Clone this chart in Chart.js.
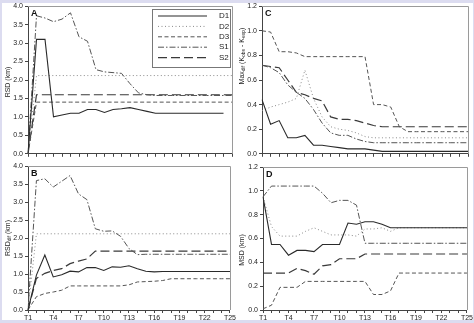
<!DOCTYPE html>
<html>
<head>
<meta charset="utf-8">
<script src="https://cdn.jsdelivr.net/npm/chart.js@4.4.1/dist/chart.umd.min.js"></script>
<style>
  body { margin: 0; background: #dcdcf0; }
  #sheet { position: absolute; left: 2px; top: 3px; width: 471px; height: 317px; background: #fff; }
  .panel { position: absolute; }
</style>
</head>
<body>
<div id="sheet"></div>
<div class="panel" style="left:0;top:0;width:237px;height:160px"><canvas id="chartA"></canvas></div>
<div class="panel" style="left:0;top:160px;width:237px;height:163px"><canvas id="chartB"></canvas></div>
<div class="panel" style="left:234px;top:0;width:240px;height:160px"><canvas id="chartC"></canvas></div>
<div class="panel" style="left:234px;top:160px;width:240px;height:163px"><canvas id="chartD"></canvas></div>
<script>
const timeSteps = ["T1", "T2", "T3", "T4", "T5", "T6", "T7", "T8", "T9", "T10", "T11", "T12", "T13",
  "T14", "T15", "T16", "T17", "T18", "T19", "T20", "T21", "T22", "T23", "T24", "T25"];
const seriesNames = ["D1", "D2", "D3", "S1", "S2"];

// A: RSD (km)
const rsdD1 = [0, 3.1, 3.1, 1.0, 1.05, 1.1, 1.1, 1.2, 1.2, 1.12, 1.2, 1.22, 1.25, 1.2, 1.15, 1.1, 1.1, 1.1, 1.1, 1.1, 1.1, 1.1, 1.1, 1.1, null];
const rsdD2 = [0, 2.12, 2.12, 2.12, 2.12, 2.12, 2.12, 2.12, 2.12, 2.12, 2.12, 2.12, 2.12, 2.12, 2.12, 2.12, 2.12, 2.12, 2.12, 2.12, 2.12, 2.12, 2.12, 2.12, 2.12];
const rsdD3 = [0, 1.4, 1.4, 1.4, 1.4, 1.4, 1.4, 1.4, 1.4, 1.4, 1.4, 1.4, 1.4, 1.4, 1.4, 1.4, 1.4, 1.4, 1.4, 1.4, 1.4, 1.4, 1.4, 1.4, 1.4];
const rsdS1 = [0, 3.74, 3.68, 3.58, 3.65, 3.82, 3.17, 3.05, 2.28, 2.22, 2.2, 2.18, 1.9, 1.65, 1.6, 1.58, 1.58, 1.58, 1.58, 1.58, 1.58, 1.58, 1.58, 1.58, 1.58];
const rsdS2 = [0, 1.6, 1.6, 1.6, 1.6, 1.6, 1.6, 1.6, 1.6, 1.6, 1.6, 1.6, 1.6, 1.6, 1.6, 1.6, 1.6, 1.6, 1.6, 1.6, 1.6, 1.6, 1.6, 1.6, 1.6];

// B: RSD dif (km)
const difD1 = [0, 0.97, 1.53, 0.92, 0.98, 1.08, 1.06, 1.18, 1.18, 1.1, 1.2, 1.19, 1.23, 1.15, 1.08, 1.06, 1.07, 1.07, 1.07, 1.07, 1.07, 1.07, 1.07, 1.07, 1.07];
const difD2 = [0, 2.12, 2.12, 2.12, 2.12, 2.12, 2.12, 2.12, 2.12, 2.12, 2.12, 2.12, 2.12, 2.12, 2.12, 2.12, 2.12, 2.12, 2.12, 2.12, 2.12, 2.12, 2.12, 2.12, 2.12];
const difD3 = [0, 0.37, 0.46, 0.5, 0.55, 0.67, 0.67, 0.67, 0.67, 0.67, 0.67, 0.67, 0.7, 0.78, 0.79, 0.8, 0.82, 0.87, 0.87, 0.87, 0.87, 0.87, 0.87, 0.87, 0.87];
const difS1 = [0, 3.6, 3.65, 3.42, 3.58, 3.74, 3.23, 3.07, 2.26, 2.19, 2.2, 2.05, 1.71, 1.54, 1.55, 1.55, 1.55, 1.55, 1.55, 1.55, 1.55, 1.55, 1.55, 1.55, 1.55];
const difS2 = [0, 0.88, 1.02, 1.1, 1.15, 1.29, 1.36, 1.42, 1.64, 1.64, 1.64, 1.64, 1.64, 1.64, 1.64, 1.64, 1.64, 1.64, 1.64, 1.64, 1.64, 1.64, 1.64, 1.64, 1.64];

// C: Max dif (K obs - K exp)
const maxD1 = [0.44, 0.24, 0.27, 0.13, 0.13, 0.15, 0.07, 0.07, 0.06, 0.05, 0.04, 0.04, 0.04, 0.03, 0.02, 0.02, 0.02, 0.02, 0.02, 0.02, 0.02, 0.02, 0.02, 0.02, 0.02];
const maxD2 = [0.35, 0.38, 0.4, 0.42, 0.45, 0.68, 0.45, 0.3, 0.22, 0.2, 0.19, 0.17, 0.14, 0.13, 0.13, 0.13, 0.13, 0.13, 0.13, 0.13, 0.13, 0.13, 0.13, 0.13, 0.13];
const maxD3 = [1.0, 0.99, 0.83, 0.83, 0.82, 0.79, 0.79, 0.79, 0.79, 0.79, 0.79, 0.79, 0.79, 0.4, 0.4, 0.38, 0.22, 0.18, 0.18, 0.18, 0.18, 0.18, 0.18, 0.18, 0.18];
const maxS1 = [0.72, 0.7, 0.66, 0.56, 0.5, 0.45, 0.36, 0.25, 0.17, 0.15, 0.15, 0.12, 0.1, 0.09, 0.09, 0.09, 0.09, 0.09, 0.09, 0.09, 0.09, 0.09, 0.09, 0.09, 0.09];
const maxS2 = [0.72, 0.71, 0.7, 0.6, 0.5, 0.48, 0.45, 0.43, 0.3, 0.28, 0.28, 0.27, 0.25, 0.23, 0.22, 0.22, 0.22, 0.22, 0.22, 0.22, 0.22, 0.22, 0.22, 0.22, 0.22];

// D: MSD (km)
const msdD1 = [0.95, 0.55, 0.55, 0.46, 0.5, 0.5, 0.49, 0.55, 0.55, 0.55, 0.73, 0.72, 0.74, 0.74, 0.72, 0.69, 0.69, 0.69, 0.69, 0.69, 0.69, 0.69, 0.69, 0.69, 0.69];
const msdD2 = [0.95, 0.7, 0.62, 0.62, 0.62, 0.66, 0.69, 0.66, 0.63, 0.63, 0.63, 0.62, 0.68, 0.68, 0.69, 0.66, 0.69, 0.69, 0.69, 0.69, 0.69, 0.69, 0.69, 0.69, 0.69];
const msdD3 = [0.01, 0.04, 0.19, 0.19, 0.19, 0.24, 0.24, 0.24, 0.24, 0.24, 0.24, 0.24, 0.24, 0.13, 0.13, 0.16, 0.31, 0.31, 0.31, 0.31, 0.31, 0.31, 0.31, 0.31, 0.31];
const msdS1 = [0.95, 1.04, 1.04, 1.04, 1.04, 1.04, 1.04, 0.98, 0.9, 0.92, 0.92, 0.88, 0.56, 0.56, 0.56, 0.56, 0.56, 0.56, 0.56, 0.56, 0.56, 0.56, 0.56, 0.56, 0.56];
const msdS2 = [0.31, 0.31, 0.31, 0.31, 0.35, 0.33, 0.3, 0.37, 0.38, 0.43, 0.43, 0.43, 0.47, 0.47, 0.47, 0.47, 0.47, 0.47, 0.47, 0.47, 0.47, 0.47, 0.47, 0.47, 0.47];

const FONT = '"Liberation Sans", Arial, sans-serif';

// line look for D1, D2, D3, S1, S2
const lineStyles = [
  { color: "#2a2a2a", dash: [], width: 1.1 },
  { color: "#8a8a8a", dash: [1, 2.5], width: 1 },
  { color: "#555", dash: [4, 2.5], width: 1 },
  { color: "#555", dash: [6, 2, 1.5, 2], width: 1 },
  { color: "#3a3a3a", dash: [9, 4], width: 1.2 },
];

// frame, panel letter and the rotated axis title (with subscripts)
const panelDeco = {
  id: "panelDeco",
  afterDraw(chart, args, opts) {
    const { ctx, chartArea } = chart;
    ctx.save();
    ctx.strokeStyle = "#9a9a9a";
    ctx.lineWidth = 1;
    ctx.beginPath();
    ctx.moveTo(chartArea.left, Math.round(chartArea.top) + 0.5);
    ctx.lineTo(Math.round(chartArea.right) + 0.5, Math.round(chartArea.top) + 0.5);
    ctx.lineTo(Math.round(chartArea.right) + 0.5, chartArea.bottom);
    ctx.stroke();

    ctx.fillStyle = "#111";
    ctx.font = "bold 9px " + FONT;
    ctx.textBaseline = "alphabetic";
    ctx.fillText(opts.letter, chartArea.left + 3, chartArea.top + 10);

    // y title, drawn piece by piece so subscripts can be smaller
    ctx.translate(opts.titleX, opts.titleY);
    ctx.rotate(-Math.PI / 2);
    let total = 0;
    opts.title.forEach(p => {
      ctx.font = (p[1] ? 5 : 7) + "px " + FONT;
      total += ctx.measureText(p[0]).width;
    });
    let x = -total / 2;
    ctx.fillStyle = "#222";
    ctx.textBaseline = "middle";
    opts.title.forEach(p => {
      ctx.font = (p[1] ? 5 : 7) + "px " + FONT;
      ctx.fillText(p[0], x, p[1] ? 2 : 0);
      x += ctx.measureText(p[0]).width;
    });
    ctx.restore();
  }
};

// boxed legend inside panel A
const boxLegend = {
  id: "boxLegend",
  afterDraw(chart, args, opts) {
    if (!opts.show) return;
    const { ctx } = chart;
    ctx.save();
    ctx.strokeStyle = "#777";
    ctx.lineWidth = 1;
    ctx.strokeRect(opts.x + 0.5, opts.y + 0.5, opts.w, opts.h);
    ctx.font = "8px " + FONT;
    ctx.textBaseline = "middle";
    chart.data.datasets.forEach((ds, i) => {
      const y = opts.y + 7 + i * 10.4;
      ctx.strokeStyle = ds.borderColor;
      ctx.lineWidth = ds.borderWidth;
      ctx.setLineDash(ds.borderDash);
      ctx.beginPath();
      ctx.moveTo(opts.x + 6, y);
      ctx.lineTo(opts.x + 55, y);
      ctx.stroke();
      ctx.setLineDash([]);
      ctx.fillStyle = "#222";
      ctx.fillText(ds.label, opts.x + 67, y);
    });
    ctx.restore();
  }
};

function makePanel(id, cfg) {
  const datasets = cfg.series.map((values, i) => ({
    label: seriesNames[i],
    data: values,
    borderColor: lineStyles[i].color,
    borderDash: lineStyles[i].dash,
    borderWidth: lineStyles[i].width,
    pointRadius: 0,
    tension: 0,
    fill: false,
    spanGaps: false,
  }));
  new Chart(document.getElementById(id), {
    type: "line",
    data: { labels: timeSteps, datasets: datasets },
    options: {
      responsive: true,
      maintainAspectRatio: false,
      animation: false,
      layout: { padding: { top: cfg.padTop, right: cfg.padRight, left: 0, bottom: 0 } },
      plugins: {
        legend: { display: false },
        tooltip: { enabled: false },
        panelDeco: { letter: cfg.letter, title: cfg.title, titleX: cfg.titleX, titleY: cfg.titleY },
        boxLegend: { show: !!cfg.legend, x: 152, y: 9, w: 78, h: 58 },
      },
      scales: {
        x: {
          offset: false,
          grid: { drawOnChartArea: false, tickLength: 3, color: "#444" },
          border: { color: "#444" },
          ticks: {
            autoSkip: false,
            maxRotation: 0,
            padding: 1,
            color: "#222",
            font: { size: 7, family: FONT },
            callback: (v, i) => (cfg.xLabels && i % 3 === 0 ? timeSteps[i] : ""),
          },
          afterFit: s => { s.height = cfg.xHeight; },
        },
        y: {
          min: 0,
          max: cfg.yMax,
          grid: { drawOnChartArea: false, tickLength: 3, color: "#444" },
          border: { color: "#444" },
          ticks: {
            stepSize: cfg.yStep,
            padding: 2,
            color: "#222",
            font: { size: 7, family: FONT },
            callback: v => v.toFixed(1),
          },
          afterFit: s => { s.width = cfg.yWidth; },
        },
      },
    },
    plugins: [panelDeco, boxLegend],
  });
}

makePanel("chartA", {
  series: [rsdD1, rsdD2, rsdD3, rsdS1, rsdS2],
  letter: "A", title: [["RSD (km)", false]], titleX: 8, titleY: 82,
  yMax: 4, yStep: 0.5, yWidth: 28, padTop: 6, padRight: 5, xHeight: 5, xLabels: false, legend: true,
});
makePanel("chartB", {
  series: [difD1, difD2, difD3, difS1, difS2],
  letter: "B", title: [["RSD", false], ["dif", true], [" (km)", false]], titleX: 8, titleY: 78,
  yMax: 4, yStep: 0.5, yWidth: 28, padTop: 6, padRight: 5, xHeight: 13, xLabels: true,
});
makePanel("chartC", {
  series: [maxD1, maxD2, maxD3, maxS1, maxS2],
  letter: "C", title: [["Max", false], ["dif", true], [" (K", false], ["obs", true], [" - K", false], ["exp", true], [")", false]],
  titleX: 8, titleY: 56,
  yMax: 1.2, yStep: 0.2, yWidth: 28, padTop: 5, padRight: 6, xHeight: 5, xLabels: false,
});
makePanel("chartD", {
  series: [msdD1, msdD2, msdD3, msdS1, msdS2],
  letter: "D", title: [["MSD (km)", false]], titleX: 8, titleY: 90,
  yMax: 1.2, yStep: 0.2, yWidth: 29, padTop: 7, padRight: 6, xHeight: 13, xLabels: true,
});
</script>
</body>
</html>
